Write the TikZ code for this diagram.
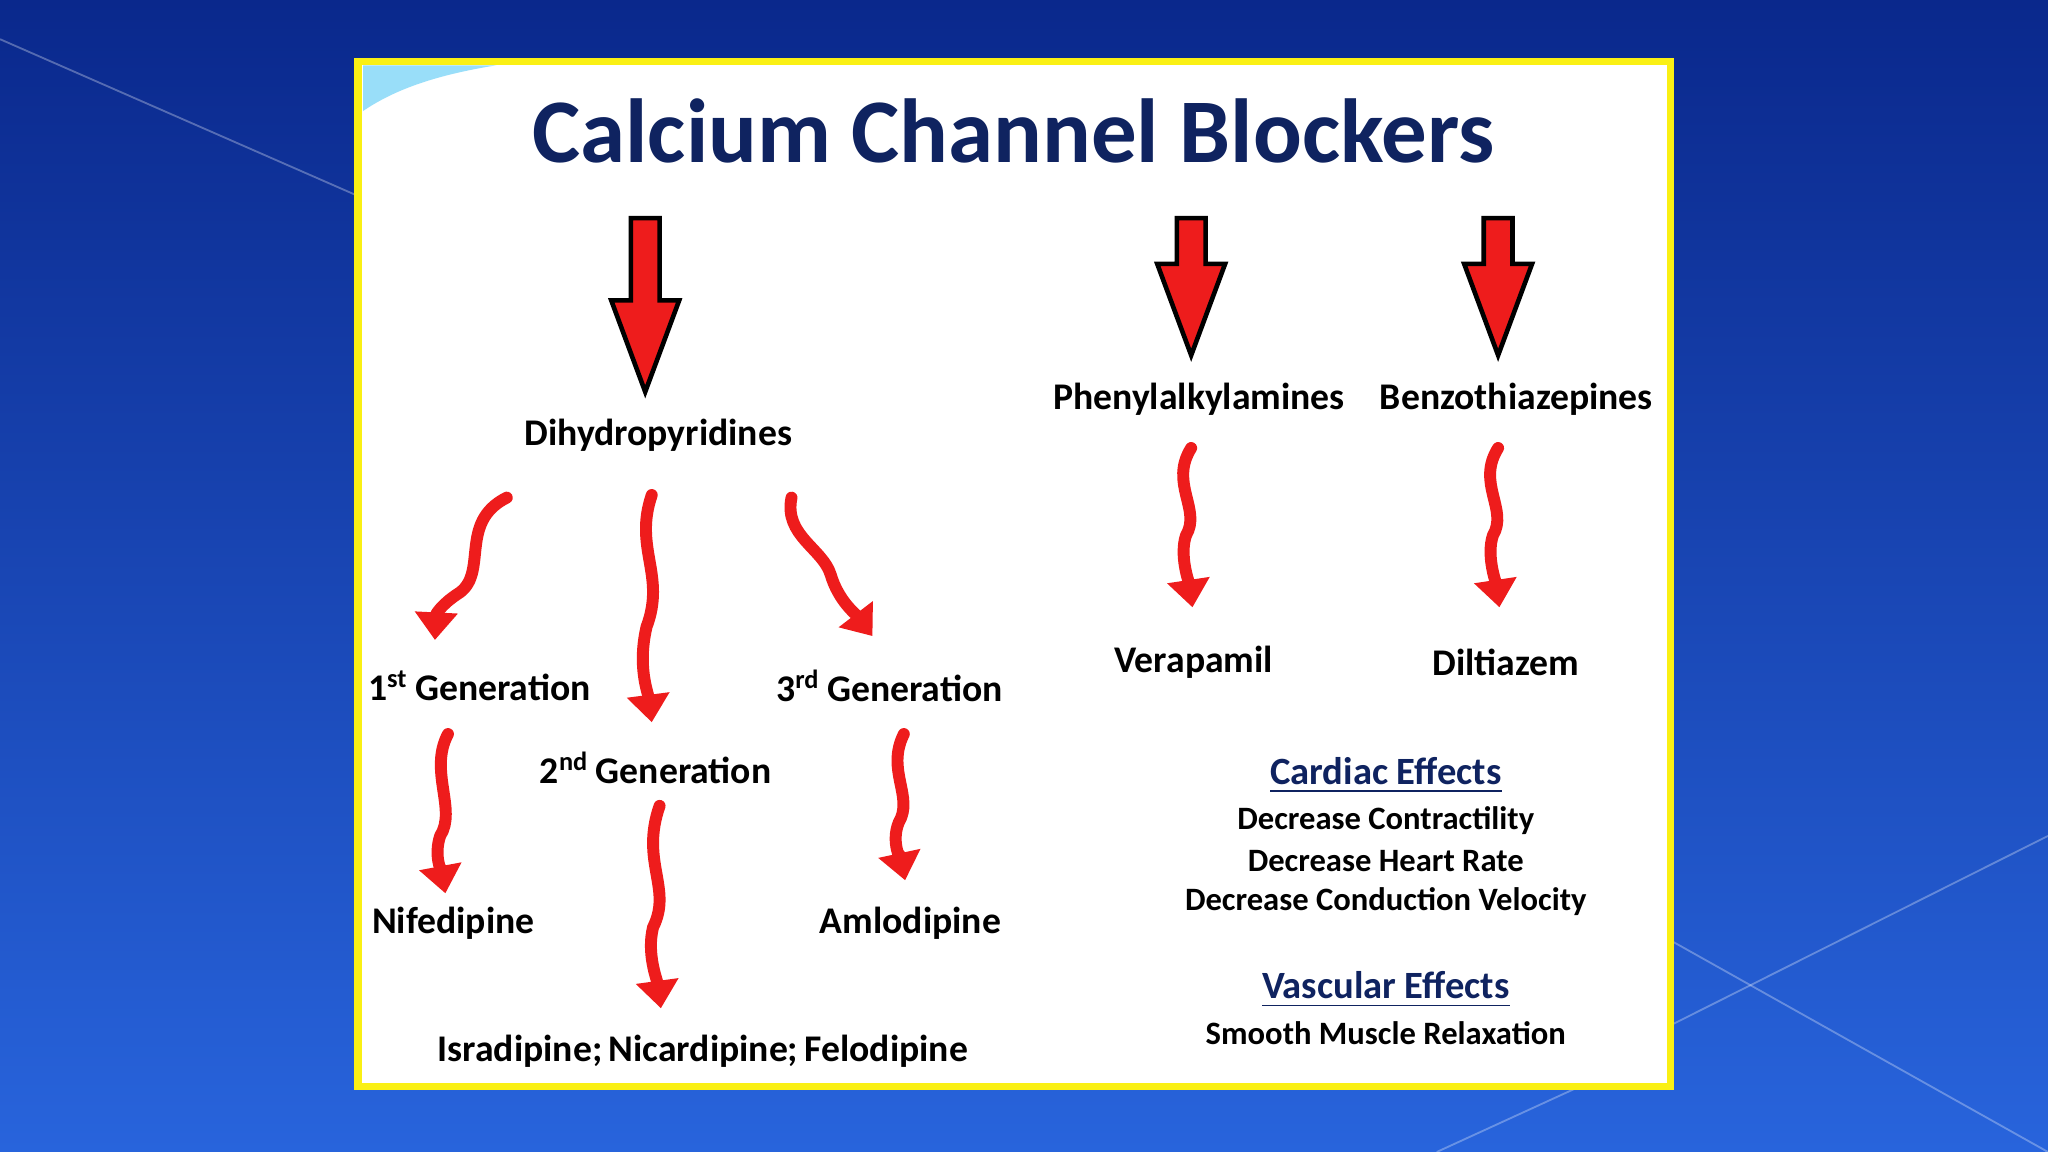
\documentclass[tikz,border=0pt]{standalone}
\usepackage{fontspec}
\setmainfont{Carlito}
\usetikzlibrary{arrows.meta}
\definecolor{navy}{HTML}{0F2360}
\definecolor{ared}{HTML}{EE1C1C}
\tikzset{
 lbl/.style={font=\fontsize{8.2}{10}\selectfont\bfseries, text=black, inner sep=0pt},
 eff/.style={font=\fontsize{7.1}{9}\selectfont\bfseries, text=black, inner sep=0pt},
 hdr/.style={font=\fontsize{8.4}{10}\selectfont\bfseries, text=navy, inner sep=0pt},
 wv/.style={draw=ared, line width=2.6pt, line cap=round, -{Triangle[width=9pt,length=6pt]}},
 blk/.style={fill=ared, draw=black, line width=1pt, line join=miter}
}
\newcommand{\bigarr}[3]{%
 \filldraw[blk] (#1-11,#2) -- (#1+11,#2) -- (#1+11,#3-70) -- (#1+26,#3-70) -- (#1,#3) -- (#1-26,#3-70) -- (#1-11,#3-70) -- cycle;}
\begin{document}
\begin{tikzpicture}[x=0.01cm,y=-0.01cm]
\useasboundingbox (0,0) rectangle (1568,882);
\shade[top color={rgb,255:red,10;green,40;blue,140}, bottom color={rgb,255:red,40;green,100;blue,220}] (0,0) rectangle (1568,882);
\draw[white,opacity=0.3,line width=0.4pt] (0,30) -- (274,150);
\draw[white,opacity=0.3,line width=0.4pt] (1279,720) -- (1568,882);
\draw[white,opacity=0.3,line width=0.4pt] (1279,785) -- (1568,640);
\draw[white,opacity=0.3,line width=0.4pt] (1100,882) -- (1279,800);
% panel
\filldraw[fill=white, draw={rgb,255:red,250;green,240;blue,20}, line width=1.6pt] (274,47) rectangle (1279,832);
\fill[cyan!40] (278,50) -- (380,50) .. controls (330,58) and (300,70) .. (278,85) -- cycle;
\node[font=\fontsize{19.8}{24}\selectfont\bfseries, text=navy, inner sep=0pt] (title) at (776,100) {Calcium Channel Blockers};
% big arrows
\bigarr{494}{167}{300}
\bigarr{912}{167}{272}
\bigarr{1147}{167}{272}
\node[lbl] (dhp) at (504,333) {Dihydropyridines};
\node[lbl] (phe) at (918,306) {Phenylalkylamines};
\node[lbl] (ben) at (1161,306) {Benzothiazepines};
\node[lbl] (g1) at (367,525) {1\textsuperscript{st}\,Generation};
\node[lbl] (g2) at (502,588) {2\textsuperscript{nd}\,Generation};
\node[lbl] (g3) at (681,525) {3\textsuperscript{rd}\,Generation};
\node[lbl] (nif) at (347,707) {Nifedipine};
\node[lbl] (aml) at (697,707) {Amlodipine};
\node[lbl] (isr) at (538,805) {Isradipine;\,Nicardipine;\,Felodipine};
\node[lbl] (ver) at (914,507) {Verapamil};
\node[lbl] (dil) at (1153,507) {Diltiazem};
% wavy arrows
\draw[wv] (388,381) .. controls (350,400) and (375,440) .. (350,455) .. controls (338,463) and (334,470) .. (333,490);
\draw[wv] (499,379) .. controls (485,420) and (510,440) .. (495,480) .. controls (488,510) and (496,530) .. (499,553);
\draw[wv] (606,381) .. controls (600,410) and (630,420) .. (636,440) .. controls (642,460) and (655,470) .. (668,487);
\draw[wv] (343,562) .. controls (328,590) and (350,620) .. (337,640) .. controls (332,655) and (338,668) .. (341,684);
\draw[wv] (505,617) .. controls (490,660) and (515,680) .. (500,710) .. controls (495,730) and (503,750) .. (506,772);
\draw[wv] (692,562) .. controls (678,590) and (700,610) .. (688,630) .. controls (682,645) and (690,660) .. (693,674);
\draw[wv] (912,343) .. controls (895,370) and (920,390) .. (908,410) .. controls (903,425) and (910,445) .. (913,465);
\draw[wv] (1147,343) .. controls (1130,370) and (1155,390) .. (1143,410) .. controls (1138,425) and (1145,445) .. (1148,465);
% effects
\node[hdr] (card) at (1061,594) {\underline{Cardiac Effects}};
\node[eff] (ce1) at (1061,628) {Decrease Contractility};
\node[eff] (ce2) at (1061,659) {Decrease Heart Rate};
\node[eff] (ce3) at (1061,690) {Decrease Conduction Velocity};
\node[hdr] (vasc) at (1061,758) {\underline{Vascular Effects}};
\node[eff] (ve) at (1061,791) {Smooth Muscle Relaxation};
\end{tikzpicture}
\end{document}
